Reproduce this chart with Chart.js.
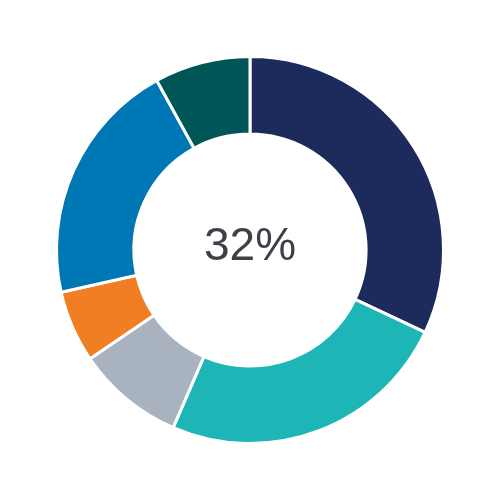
<!DOCTYPE html>
<html>
<head>
<meta charset="utf-8">
<script src="https://cdn.jsdelivr.net/npm/chart.js@4"></script>
<style>
html, body { margin: 0; padding: 0; background: #fff; }
#box { width: 500px; height: 500px; }
</style>
</head>
<body>
<div id="box"><canvas id="dona"></canvas></div>
<script>
/* DATOS */
const categorias = ['A', 'B', 'C', 'D', 'E', 'F'];
const valores = [32, 24.5, 9, 6, 20.5, 8];
const colores = ['#1d2b5c', '#1db5b6', '#a9b3c0', '#f07e22', '#0077b5', '#005556'];
const textoCentro = '32%';

/* TEXTO AL CENTRO */
const centro = {
  id: 'centro',
  afterDraw(chart) {
    const c = chart.ctx;
    const a = chart.chartArea;
    c.save();
    c.font = '46px "Liberation Sans", Arial, sans-serif';
    c.fillStyle = '#3c4148';
    c.textAlign = 'center';
    c.textBaseline = 'middle';
    c.fillText(textoCentro, (a.left + a.right) / 2, (a.top + a.bottom) / 2 - 3);
    c.restore();
  }
};

const ctx = document.getElementById('dona');
new Chart(ctx, {
  type: 'doughnut',
  data: {
    labels: categorias,
    datasets: [{
      data: valores,
      backgroundColor: colores,
      borderColor: '#ffffff',
      borderWidth: 3
    }]
  },
  options: {
    responsive: true,
    maintainAspectRatio: false,
    animation: false,
    cutout: '60%',
    layout: { padding: 55 },
    plugins: {
      legend: { display: false },
      tooltip: { enabled: false }
    }
  },
  plugins: [centro]
});
</script>
</body>
</html>
